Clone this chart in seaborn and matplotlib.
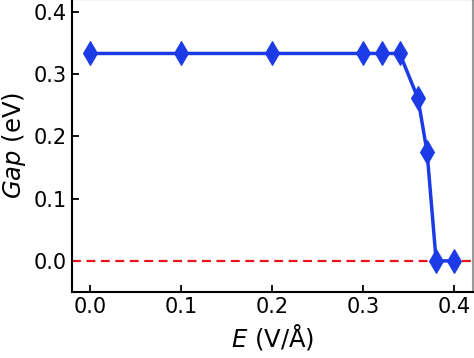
import matplotlib
matplotlib.use("Agg")
import matplotlib.pyplot as plt
import numpy as np
import pandas as pd
import seaborn as sns

# Field strength (V/Å) and band gap (eV)
field = [0.0, 0.1, 0.2, 0.3, 0.32, 0.34, 0.36, 0.37, 0.38, 0.40]
gap = [0.333, 0.333, 0.333, 0.333, 0.333, 0.333, 0.261, 0.175, 0.0, 0.0]

x_ticks = [0.0, 0.1, 0.2, 0.3, 0.4]
y_ticks = [0.0, 0.1, 0.2, 0.3, 0.4]


def main() -> None:
    sns.set_style("ticks")
    plt.rcParams["font.family"] = ["DejaVu Sans"]
    plt.rcParams["mathtext.fontset"] = "dejavusans"
    plt.rcParams["text.color"] = "black"
    plt.rcParams["axes.labelcolor"] = "black"

    df = pd.DataFrame({"E": field, "gap": gap})

    fig = plt.figure(figsize=(4.74, 3.58), dpi=100)
    ax = fig.add_axes([72 / 474, 66 / 358, 1 - 72 / 474 - 0.003, 1 - 66 / 358 + 0.002])

    ax.axhline(0.0, color="#e8141c", linestyle="--", linewidth=1.6, dashes=(4, 2.5), zorder=1)
    sns.lineplot(data=df, x="E", y="gap", ax=ax, color="#1c3be6", linewidth=2.5,
                 marker="d", markersize=12, markeredgecolor="#1c3be6", zorder=3)

    ax.set_xlim(-0.02, 0.42)
    ax.set_ylim(-0.05, 0.42)
    ax.set_xticks(x_ticks)
    ax.set_yticks(y_ticks)
    ax.set_xticklabels([f"{v:.1f}" for v in x_ticks])
    ax.set_yticklabels([f"{v:.1f}" for v in y_ticks])
    ax.tick_params(direction="in", length=5, width=1.3, labelsize=15, colors="black")
    for side in ax.spines.values():
        side.set_linewidth(1.5)
        side.set_color("black")
    ax.spines["right"].set_color("#999999")

    ax.set_xlabel(r"$E$ (V/Å)", fontsize=17.5, labelpad=4)
    ax.set_ylabel(r"$Gap$ (eV)", fontsize=17.5, labelpad=4)

    fig.savefig("out.png", dpi=100)
    plt.close(fig)


if __name__ == "__main__":
    main()
